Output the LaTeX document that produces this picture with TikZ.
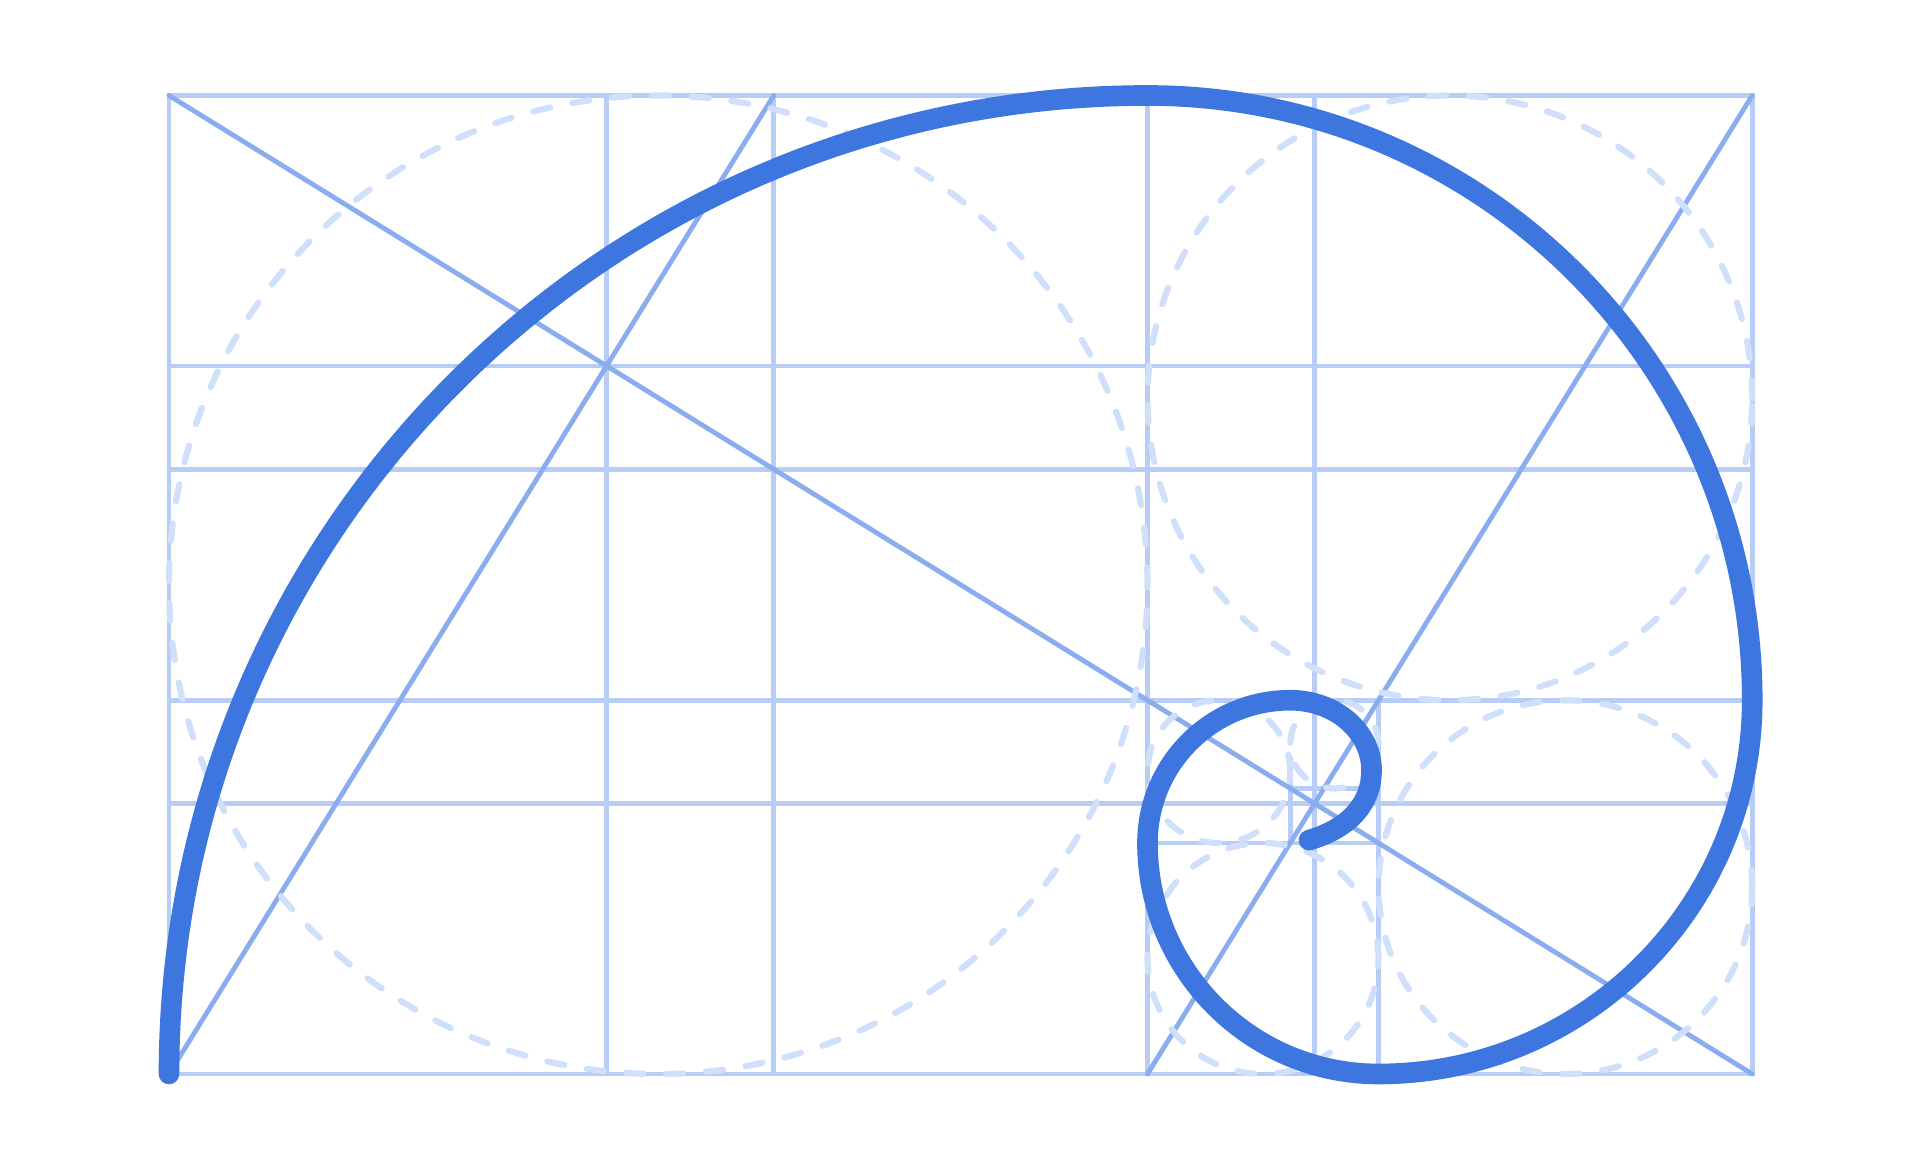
\documentclass[tikz,border=0pt]{standalone}
\definecolor{gridblue}{HTML}{B7CDF6}
\definecolor{diagblue}{HTML}{8AADF0}
\definecolor{circblue}{HTML}{D0E0FB}
\definecolor{spiralblue}{HTML}{3E76E0}
\tikzset{
  gridline/.style={gridblue, line width=1.4pt},
  diagline/.style={diagblue, line width=1.4pt, line cap=round},
  dashcircle/.style={circblue, line width=1.8pt, line cap=round, dash pattern=on 5pt off 6.6pt},
  spiralline/.style={spiralblue, line width=6pt, line cap=round}
}
\begin{document}
\begin{tikzpicture}
  \useasboundingbox (-1.727,-0.991) rectangle (17.895,10.976);
  \def\W{16.1803}
  \def\H{10}
  \coordinate (BL) at (0,0);
  \coordinate (TL) at (0,\H);
  \coordinate (BR) at (\W,0);
  \coordinate (TR) at (\W,\H);
  \coordinate (S1) at (6.1803,\H);
  \coordinate (S2) at (10,0);

  % GRID
  \draw[gridline] (BL) rectangle (TR);
  \foreach \x in {4.4721, 6.1803, 10, 11.7082}
    \draw[gridline] (\x,0) -- (\x,\H);
  \foreach \y in {2.7639, 3.8197, 6.1803, 7.2361}
    \draw[gridline] (0,\y) -- (\W,\y);
  \draw[gridline] (12.3607,0) -- (12.3607,3.8197);
  \draw[gridline] (10,2.3607) -- (12.3607,2.3607);
  \draw[gridline] (11.4590,2.3607) -- (11.4590,3.24);
  \draw[gridline] (11.4590,2.9180) -- (12.3607,2.9180);

  % DIAGONALS
  \draw[diagline] (TL) -- (BR);
  \draw[diagline] (BL) -- (S1);
  \draw[diagline] (S2) -- (TR);

  % CIRCLES
  \foreach \cx/\cy/\r in {5/5/5, 13.0902/6.9098/3.0902, 14.2705/1.9098/1.9098,
      11.1803/1.1803/1.1803, 10.7295/3.0902/0.7295, 11.9098/3.3688/0.4508}
    \draw[dashcircle] (\cx,\cy) circle[radius=\r];

  % SPIRAL
  \draw[spiralline] (BL)
    arc[start angle=180, end angle=90, radius=10]
    arc[start angle=90, end angle=0, radius=6.1803]
    arc[start angle=0, end angle=-90, radius=3.8197]
    arc[start angle=-90, end angle=-180, radius=2.3607]
    arc[start angle=180, end angle=90, radius=1.4590]
    .. controls (11.92,3.8197) and (12.29,3.50) .. (12.29,3.10)
    .. controls (12.29,2.80) and (12.10,2.52) .. (11.65,2.39);
\end{tikzpicture}
\end{document}
